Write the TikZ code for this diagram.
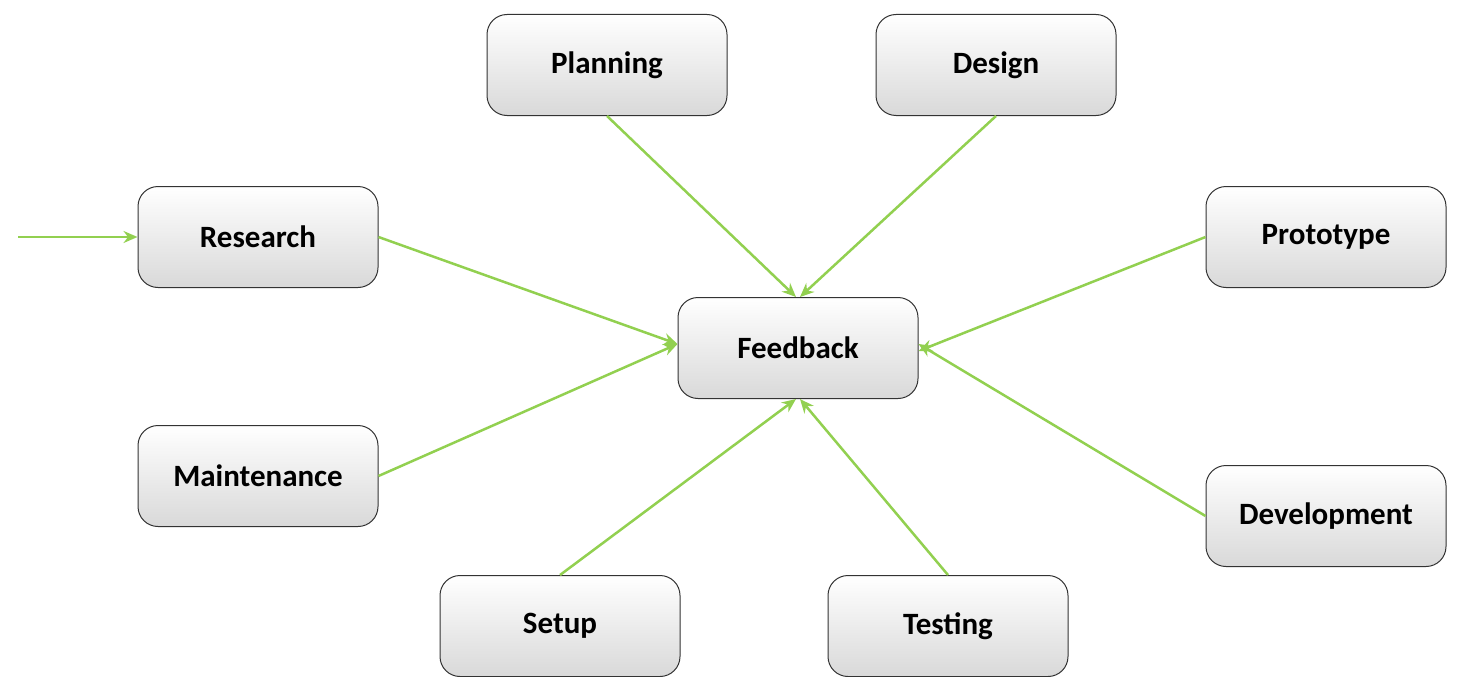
\documentclass[tikz,border=0pt]{standalone}
\usepackage{fontspec}
\setmainfont{Carlito}
\usetikzlibrary{arrows.meta}
\definecolor{grn}{RGB}{146,208,80}
\begin{document}
\begin{tikzpicture}[x=1pt,y=-1pt,
  box/.style={draw=black!80,line width=1pt,rounded corners=20pt,minimum width=240pt,minimum height=101pt,
    top color=white,bottom color=black!15,font=\fontsize{31}{36}\selectfont\bfseries,inner sep=0pt},
  arr/.style={draw=grn,line width=2.5pt,-{Stealth[length=14pt,width=12pt]}}]
\useasboundingbox (0,0) rectangle (1464,677);
\node[box] (pl) at (607,65) {Planning};
\node[box] (de) at (996,65) {Design};
\node[box] (re) at (258,237) {Research};
\node[box] (pr) at (1326,237) {Prototype};
\node[box] (fb) at (798,348) {Feedback};
\node[box] (ma) at (258,476) {Maintenance};
\node[box] (dv) at (1326,516) {Development};
\node[box] (se) at (560,626) {Setup};
\node[box] (te) at (948,626) {Testing};
\coordinate (st) at (18,237);
\draw[arr] (st) -- (re.west);
\draw[arr] (pl.south) -- ([xshift=-2pt]fb.north);
\draw[arr] (de.south) -- ([xshift=2pt]fb.north);
\draw[arr] (re.east) -- ([yshift=4pt]fb.west);
\draw[arr] (ma.east) -- ([yshift=4pt]fb.west);
\draw[arr] (pr.west) -- ([yshift=-3pt]fb.east);
\draw[arr] (dv.west) -- ([yshift=4pt]fb.east);
\draw[arr] (se.north) -- ([xshift=-2pt]fb.south);
\draw[arr] (te.north) -- ([xshift=2pt]fb.south);
\end{tikzpicture}
\end{document}
